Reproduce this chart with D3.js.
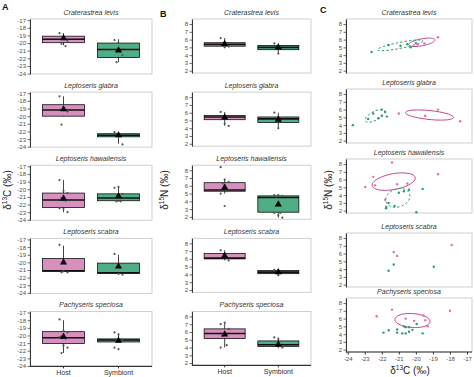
<!DOCTYPE html>
<html><head><meta charset="utf-8">
<script src="https://cdn.jsdelivr.net/npm/d3@7"></script>
<style>body{margin:0;background:#fff;} svg{display:block;font-family:"Liberation Sans",Arial,sans-serif;}</style>
</head><body><svg id="c" width="474" height="377"></svg>
<script>
// ---------- DATA ----------
const species = ["Craterastrea levis","Leptoseris glabra","Leptoseris hawaiiensis","Leptoseris scabra","Pachyseris speciosa"];
const groups = ["Host","Symbiont"];
const carbonTicks = [-17,-18,-19,-20,-21,-22,-23,-24];
const nitrogenTicks = [2,3,4,5,6,7,8];
const carbonXTicks = [-24,-23,-22,-21,-20,-19,-18,-17];

// box stats: [low whisker, q1, median, q3, high whisker]
const carbonHostBox = [[-20.3,-19.95,-19.5,-19.1,-18.7],[-20.05,-20.0,-19.2,-18.5,-17.4],[-23.0,-22.4,-21.4,-20.5,-18.8],[-21.3,-21.2,-21.1,-19.5,-17.8],[-22.3,-21.05,-20.3,-19.5,-18.0]];
const carbonSymbBox = [[-22.5,-21.9,-20.85,-20.0,-19.5],[-23.6,-22.7,-22.5,-22.3,-22.1],[-21.6,-21.5,-21.15,-20.6,-19.7],[-21.6,-21.45,-21.35,-20.1,-19.0],[-20.9,-20.85,-20.6,-20.45,-19.7]];
const carbonHostMean = [-19.35,-19.1,-21.2,-20.0,-20.15];
const carbonSymbMean = [-20.95,-22.5,-20.9,-20.55,-20.7];
const carbonHostPts = [[-18.7,-19.3,-19.7,-20.1,-20.4],[-17.4,-19.0,-19.4,-21.1],[-18.8,-20.2,-20.5,-21.2,-21.5,-22.5,-22.6,-23.0],[-17.7,-21.1,-21.3,-21.3],[-17.9,-19.4,-19.6,-20.1,-20.4,-20.2,-21.3,-21.6,-22.3]];
const carbonSymbPts = [[-19.6,-20.0,-21.6,-22.5],[-22.1,-22.3,-23.7],[-19.8,-19.7,-20.6,-21.6,-21.6],[-18.9,-21.5,-21.6],[-19.6,-19.9,-20.5,-20.6,-20.7,-21.6,-21.8]];

const nitroHostBox = [[5.0,5.15,5.38,5.6,6.2],[4.3,5.1,5.45,5.65,6.1],[5.0,5.3,5.45,6.4,6.9],[5.8,6.0,6.1,6.7,7.1],[4.0,5.15,5.8,6.4,7.2]];
const nitroSymbBox = [[4.2,4.7,5.0,5.25,5.5],[4.0,4.75,5.2,5.45,6.0],[1.9,2.6,4.5,4.7,4.9],[3.8,4.1,4.3,4.5,4.7],[3.9,4.15,4.35,4.85,5.3]];
const nitroHostMean = [5.45,5.4,5.8,6.4,5.7];
const nitroSymbMean = [5.0,5.1,3.6,4.3,4.4];
const nitroHostPts = [[6.2,5.0,5.1,5.5],[6.1,4.6,4.3,5.4],[8.4,6.8,6.5,6.3,5.3,5.0,3.4],[7.1,6.3,5.8],[7.0,7.2,6.4,5.5,4.3,4.0]];
const nitroSymbPts = [[5.5,4.2],[6.0,4.0],[4.8,4.8,4.7,4.6,2.5,2.5,2.2,1.9],[4.6,3.9],[5.3,5.1,4.0,4.3]];

// biplot points [d13C, d15N]
const bipHost = [
 [[-18.7,6.3],[-19.5,5.5],[-19.9,5.35]],
 [[-21.0,5.5],[-18.7,6.0],[-19.45,5.2],[-17.4,4.5]],
 [[-22.97,5.04],[-22.5,6.35],[-22.4,5.26],[-21.4,8.2],[-21.1,5.4],[-20.5,5.5],[-18.7,6.7],[-21.8,3.4]],
 [[-21.3,6.2],[-21.1,5.7],[-17.9,7.1]],
 [[-22.3,6.3],[-21.4,7.15],[-20.6,6.0],[-20.1,5.7],[-19.55,6.4],[-19.45,5.8],[-18.0,7.0],[-19.3,5.0]]
];
const bipSymb = [
 [[-22.6,4.4],[-21.6,5.3],[-20.9,5.2],[-20.5,5.4],[-20.0,5.55],[-20.3,5.0]],
 [[-23.7,4.0],[-22.8,4.8],[-22.5,5.5],[-22.0,6.0],[-21.8,5.7],[-21.7,5.1],[-22.0,5.2],[-22.2,4.9]],
 [[-21.74,2.48],[-21.75,2.3],[-21.25,2.6],[-21.0,4.3],[-20.7,4.5],[-20.4,4.7],[-19.6,4.8],[-19.97,1.8],[-21.6,3.0]],
 [[-21.6,3.8],[-21.3,4.6],[-18.95,4.3]],
 [[-21.9,4.2],[-21.6,4.5],[-21.1,4.2],[-20.8,4.1],[-20.6,4.1],[-20.4,4.3],[-20.2,4.55],[-19.95,5.3],[-20.6,4.9],[-20.4,4.9],[-19.6,4.1],[-20.7,5.0],[-21.1,4.6]]
];
// ellipses: [centre x, centre y, major axis vector dx, dy, minor axis vector dx, dy] (data units)
const ellHost = [[-19.65,5.65,0.77,0.32,0.04,-0.44],[-19.2,5.3,1.41,-0.32,0.03,0.57],[-21.3,5.74,1.26,0.51,0.08,-1.0],null,[-20.2,5.75,1.03,-0.13,0,0.9]];
const ellSymb = [[-20.92,5.26,1.34,0.58,0.03,-0.38],[-22.4,5.2,0.57,0.64,0.11,-0.51],[-21.06,3.65,0.69,0.51,0.16,-1.1],null,null];

// ---------- DRAW ----------
const svg = d3.select("#c");
const HOST_FILL="#d68fbe", SYMB_FILL="#4fae86";
const HOST_PT="#dc6fae", SYMB_PT="#2e9c70";
const HOST_ELL="#c4418c", SYMB_ELL="#2a9a6c";
const rowTopsAB=[19,92.1,165.2,238.3,311.4];
const rowTopsC=[19,89,159,233,298];
const jit = i => (((i*7)%5)-2)*2.0;
const fmt = d => String(d);

function styleAxis(ax){
  ax.select(".domain").attr("stroke","#222").attr("stroke-width",0.9);
  ax.selectAll(".tick line").attr("stroke","#333").attr("stroke-width",0.7);
  ax.selectAll(".tick text").attr("fill","#4d4d4d").style("font-size","6px").style("font-family","Liberation Sans, Arial, sans-serif");
}

function boxColumn(x0,x1,h,yDomain,ticks,hb,sb,hm,sm,hp,sp){
  const xb = d3.scaleBand().domain(groups).range([x0,x1]).paddingInner(0.236).paddingOuter(0.227);
  species.forEach((sp_,i)=>{
    const top=rowTopsAB[i];
    const y=d3.scaleLinear().domain(yDomain).range([top+h,top]);
    const g=svg.append("g");
    g.append("rect").attr("x",x0).attr("y",top).attr("width",x1-x0).attr("height",h)
      .attr("fill","none").attr("stroke","#c4c4c4").attr("stroke-width",0.8);
    g.append("text").attr("x",(x0+x1)/2).attr("y",top-4).attr("text-anchor","middle")
      .style("font-size","7px").style("font-style","italic").attr("fill","#333").text(sp_);
    const ax=g.append("g").attr("transform",`translate(${x0},0)`)
      .call(d3.axisLeft(y).tickValues(ticks).tickFormat(fmt).tickSize(2.5).tickPadding(1.5).tickSizeOuter(0));
    styleAxis(ax);
    [[hb[i],hm[i],hp[i],HOST_FILL,"Host"],[sb[i],sm[i],sp[i],SYMB_FILL,"Symbiont"]].forEach(([b,m,pts,fill,grp])=>{
      const bx=xb(grp), bw=xb.bandwidth(), cx=bx+bw/2;
      g.append("line").attr("x1",cx).attr("x2",cx).attr("y1",y(b[0])).attr("y2",y(b[4])).attr("stroke","#111").attr("stroke-width",0.8);
      g.append("rect").attr("x",bx).attr("y",y(b[3])).attr("width",bw).attr("height",Math.max(0.5,y(b[1])-y(b[3])))
        .attr("fill",fill).attr("stroke","#111").attr("stroke-width",0.8);
      g.append("line").attr("x1",bx).attr("x2",bx+bw).attr("y1",y(b[2])).attr("y2",y(b[2])).attr("stroke","#111").attr("stroke-width",1.6);
      pts.forEach((v,k)=>{
        g.append("circle").attr("cx",cx+jit(k)).attr("cy",y(v)).attr("r",1.1).attr("fill","#555");
      });
      g.append("path").attr("d",d3.symbol(d3.symbolTriangle,22)()).attr("transform",`translate(${cx},${y(m)})`).attr("fill","#000");
    });
    if(i===species.length-1){
      const xa=g.append("g").attr("transform",`translate(0,${top+h})`).call(d3.axisBottom(xb).tickSize(2).tickPadding(2).tickSizeOuter(0));
      xa.select(".domain").attr("stroke","#333").attr("stroke-width",1.4).attr("d",`M${x0},0H${x1}`);
      xa.selectAll(".tick line").attr("stroke","#333");
      xa.selectAll(".tick text").attr("fill","#333").style("font-size","7px");
    }
  });
}

boxColumn(30,152,55,[-24.05,-16.85],carbonTicks,carbonHostBox,carbonSymbBox,carbonHostMean,carbonSymbMean,carbonHostPts,carbonSymbPts);
boxColumn(192,311,54,[1.7,8.65],nitrogenTicks,nitroHostBox,nitroSymbBox,nitroHostMean,nitroSymbMean,nitroHostPts,nitroSymbPts);

// Column C: biplots
(function(){
  const x0=346,x1=472,h=54;
  const x=d3.scaleLinear().domain([-24.1,-17]).range([x0,467]);
  species.forEach((sp_,i)=>{
    const top=rowTopsC[i];
    const y=d3.scaleLinear().domain([1.7,8.65]).range([top+h,top]);
    const g=svg.append("g");
    g.append("rect").attr("x",x0).attr("y",top).attr("width",x1-x0).attr("height",h)
      .attr("fill","none").attr("stroke","#c4c4c4").attr("stroke-width",0.8);
    g.append("text").attr("x",(x0+x1)/2).attr("y",top-4).attr("text-anchor","middle")
      .style("font-size","7px").style("font-style","italic").attr("fill","#333").text(sp_);
    const ax=g.append("g").attr("transform",`translate(${x0},0)`)
      .call(d3.axisLeft(y).tickValues(nitrogenTicks).tickFormat(fmt).tickSize(2.5).tickPadding(1.5).tickSizeOuter(0));
    styleAxis(ax);
    const line=d3.line().x(d=>x(d[0])).y(d=>y(d[1])).curve(d3.curveLinearClosed);
    const ellPts=e=>d3.range(0,64).map(k=>{const t=k/64*2*Math.PI;return [e[0]+e[2]*Math.cos(t)+e[4]*Math.sin(t), e[1]+e[3]*Math.cos(t)+e[5]*Math.sin(t)];});
    if(ellHost[i]) g.append("path").attr("d",line(ellPts(ellHost[i]))).attr("fill","none").attr("stroke",HOST_ELL).attr("stroke-width",1);
    if(ellSymb[i]) g.append("path").attr("d",line(ellPts(ellSymb[i]))).attr("fill","none").attr("stroke",SYMB_ELL).attr("stroke-width",1).attr("stroke-dasharray","2.5,2");
    bipHost[i].forEach(d=>g.append("circle").attr("cx",x(d[0])).attr("cy",y(d[1])).attr("r",1.2).attr("fill",HOST_PT));
    bipSymb[i].forEach(d=>g.append("circle").attr("cx",x(d[0])).attr("cy",y(d[1])).attr("r",1.2).attr("fill",SYMB_PT));
    if(i===species.length-1){
      const xa=g.append("g").attr("transform",`translate(0,${top+h})`).call(d3.axisBottom(x).tickValues(carbonXTicks).tickFormat(fmt).tickSize(2.5).tickPadding(2).tickSizeOuter(0));
      xa.select(".domain").attr("stroke","#333").attr("stroke-width",1.2).attr("d",`M${x0},0H${x1}`);
      xa.selectAll(".tick line").attr("stroke","#333");
      xa.selectAll(".tick text").attr("fill","#4d4d4d").style("font-size","6px");
    }
  });
})();

// axis titles
function isoTitle(xp,yp,num,el,rot){
  const t=svg.append("text").attr("text-anchor","middle").style("font-size","10px").attr("fill","#222")
    .attr("transform",`translate(${xp},${yp})`+(rot?" rotate(-90)":""));
  t.append("tspan").text("δ");
  t.append("tspan").attr("dy",-4).style("font-size","6.5px").text(num);
  t.append("tspan").attr("dy",4).text(el+" (‰)");
}
isoTitle(11,190,"13","C",true);
isoTitle(168,190,"15","N",true);
isoTitle(332,190,"15","N",true);
isoTitle(410,374,"13","C",false);

// panel letters
[["A",2,10],["B",160,17],["C",320,13]].forEach(([l,xp,yp])=>svg.append("text").attr("x",xp).attr("y",yp)
  .style("font-size","9px").style("font-weight","bold").attr("fill","#111").text(l));
</script></body></html>
